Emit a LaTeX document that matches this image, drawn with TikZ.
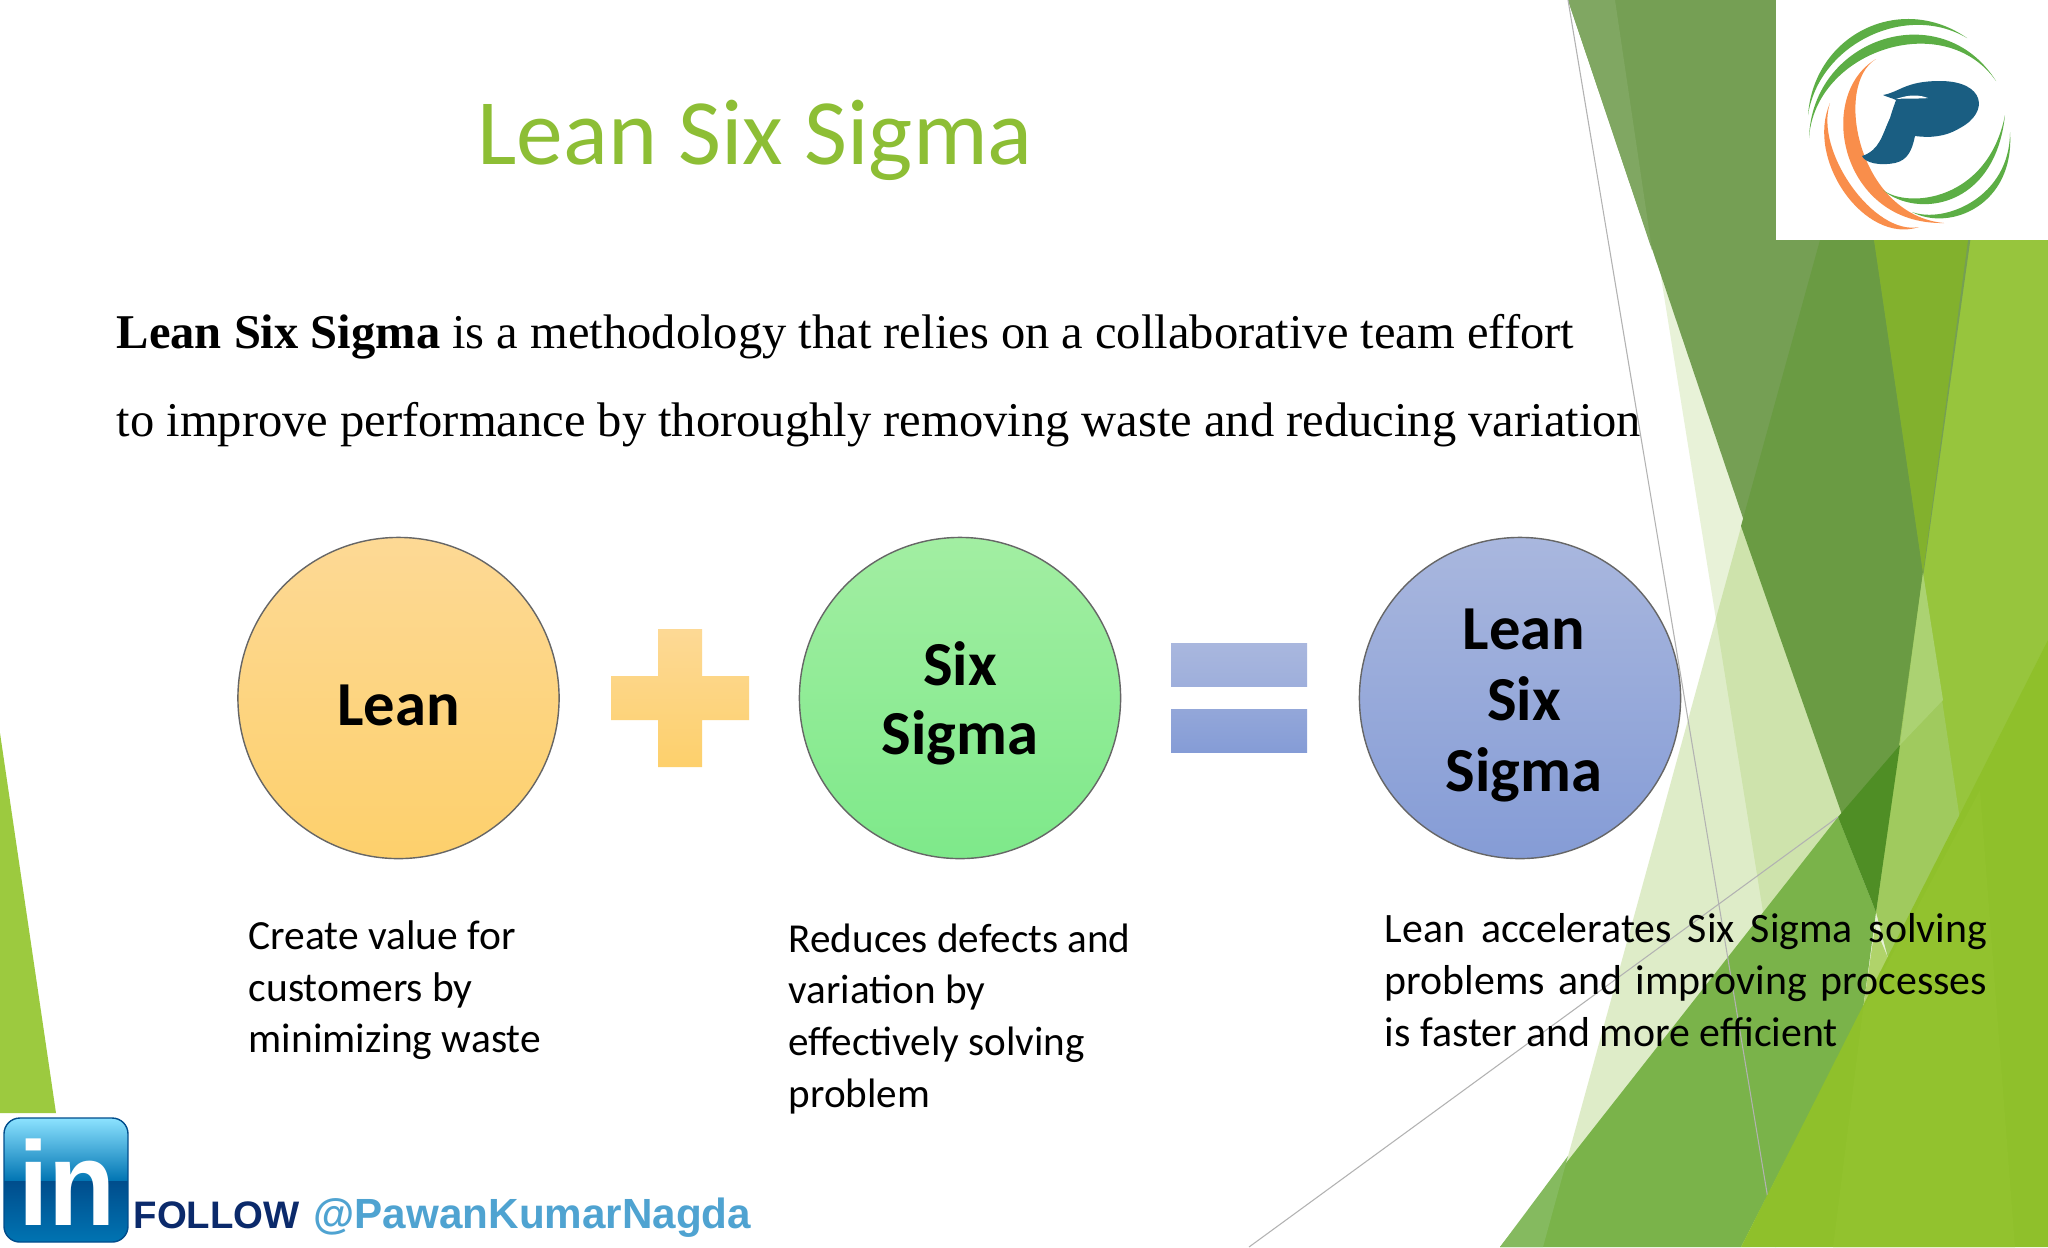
\documentclass[tikz,border=0pt]{standalone}
\usepackage{fontspec}
\setmainfont{Carlito}
\newfontfamily\bodyfont{Liberation Serif}
\newfontfamily\followfont{Liberation Sans}
\usetikzlibrary{positioning}
\definecolor{titlegreen}{HTML}{8DBE35}
\definecolor{paledark}{HTML}{8CBE3C}
\definecolor{bandtop}{HTML}{759F54}
\definecolor{bandlow}{HTML}{6A9B43}
\definecolor{bandyel}{HTML}{82B12D}
\definecolor{fieldlt}{HTML}{97C53D}
\definecolor{wedgelt}{HTML}{A0CA5E}
\definecolor{wedgeup}{HTML}{ABD272}
\definecolor{patchlt}{HTML}{B0D36A}
\definecolor{midgrn}{HTML}{7AB34A}
\definecolor{midpale}{HTML}{85BA5F}
\definecolor{deepgrn}{HTML}{4F8E25}
\definecolor{brightgrn}{HTML}{8FC02B}
\definecolor{stripegrn}{HTML}{92C22E}
\definecolor{sidegrn}{HTML}{9CCA3F}
\definecolor{leantop}{HTML}{FDD995}
\definecolor{leanlow}{HTML}{FDD06C}
\definecolor{sixtop}{HTML}{A2EEA2}
\definecolor{sixlow}{HTML}{7EE98A}
\definecolor{bothtop}{HTML}{A9B7DE}
\definecolor{bothlow}{HTML}{859CD6}
\definecolor{logoteal}{HTML}{1A5E82}
\definecolor{logogrn}{HTML}{5CAE45}
\definecolor{logoorg}{HTML}{F98E4B}
\definecolor{followblue}{HTML}{0B2A6B}
\definecolor{handleblue}{HTML}{4FA3D1}
\newcommand{\dropline}{\rule{0pt}{0.55cm}}
\tikzset{
	bigcircle/.style={circle,draw=black!60,line width=0.4pt,minimum size=3.21cm,inner sep=0pt,align=center,
		font=\fontsize{17.8}{19.7}\selectfont\bfseries},
	leandisc/.style={bigcircle,top color=leantop,bottom color=leanlow},
	sixdisc/.style={bigcircle,top color=sixtop,bottom color=sixlow},
	bothdisc/.style={bigcircle,top color=bothtop,bottom color=bothlow,font=\fontsize{17.8}{20.2}\selectfont\bfseries},
	bodyline/.style={anchor=base west,inner sep=0pt,font=\bodyfont\fontsize{13.8}{17}\selectfont},
	notetext/.style={anchor=north west,inner sep=0pt,align=left,font=\fontsize{11.7}{14.7}\selectfont},
	facet/.style={draw=none},
	hairline/.style={draw=black!30,line width=0.3pt}
}
\begin{document}
\begin{tikzpicture}[x=0.01cm,y=-0.01cm]
	\useasboundingbox (0,0) rectangle (2048,1247);
	\fill[white] (0,0) rectangle (2048,1247);

	\fill[facet,fieldlt] (1900,240) rectangle (2048,1247);
	\fill[facet,paledark,fill opacity=0.2] (1661,277) -- (1790,1080) -- (1900,1000) -- (1800,400) -- cycle;
	\fill[facet,paledark,fill opacity=0.28] (1820,240) -- (1543,1247) -- (1750,1247) -- (1880,800) -- cycle;
	\fill[facet,bandtop] (1568,0) -- (2004,0) -- (1876,912) -- cycle;
	\fill[facet,bandtop!92!white] (1568,0) -- (1615,0) -- (1652,250) -- cycle;
	\fill[facet,bandlow] (1820,240) -- (1874,240) -- (1923,573) -- (1876,912) -- (1741,526) -- cycle;
	\fill[facet,bandyel] (1874,240) -- (1968,240) -- (1923,573) -- cycle;
	\fill[facet,wedgelt] (1923,573) -- (1960,820) -- (1888,958) -- (1876,912) -- cycle;
	\fill[facet,wedgeup] (1923,573) -- (1943,700) -- (1900,745) -- cycle;
	\fill[facet,midgrn] (1500,1247) -- (1838,817) -- (1876,912) -- (1863,1009) -- (1741,1247) -- cycle;
	\fill[facet,midpale] (1500,1247) -- (1568,1156) -- (1543,1247) -- cycle;
	\fill[facet,deepgrn] (1838,817) -- (1900,745) -- (1876,912) -- cycle;
	\fill[facet,patchlt] (1875,927) -- (1888,958) -- (1863,1009) -- cycle;
	\draw[hairline] (1249,1247) -- (1838,817);
	\draw[hairline] (1568,0) -- (1776,1247);
	\fill[facet,brightgrn] (1741,1247) -- (2048,640) -- (2048,1247) -- cycle;
	\fill[facet,stripegrn] (1863,1009) -- (1833,1247) -- (2015,1247) -- (1980,790) -- cycle;
	\fill[facet,sidegrn] (0,733) -- (56,1113) -- (0,1113) -- cycle;

	\fill[white] (1776,0) rectangle (2048,240);
	\fill[logogrn] (1967,38) .. controls (1901,-8) and (1814,34) .. (1808,115) .. controls (1819,44) and (1906,2) .. cycle;
	\fill[logogrn] (1996,81) .. controls (1942,-5) and (1812,37) .. (1809,138) .. controls (1815,50) and (1945,8) .. cycle;
	\fill[logoorg] (1830,103) .. controls (1805,160) and (1865,245) .. (1919,227) .. controls (1874,236) and (1814,151) .. cycle;
	\fill[logoorg] (1876,59) .. controls (1815,95) and (1840,225) .. (1944,223) .. controls (1858,215) and (1833,85) .. cycle;
	\fill[logogrn] (1883,190) .. controls (1915,218) and (1995,210) .. (2005,115) .. controls (1988,201) and (1908,209) .. cycle;
	\fill[logogrn] (1912,212) .. controls (1950,232) and (2015,205) .. (2010,132) .. controls (2010,197) and (1945,224) .. cycle;
	\fill[logoteal] (1883,95) .. controls (1900,92) and (1905,81) .. (1940,81) .. controls (1985,81) and (1990,112) .. (1960,128)
		.. controls (1945,137) and (1930,138) .. (1915,136) .. controls (1912,150) and (1908,160) .. (1895,163)
		.. controls (1880,166) and (1865,163) .. (1862,156) .. controls (1880,150) and (1882,135) .. (1890,118)
		.. controls (1893,108) and (1895,103) .. (1896,100) .. controls (1892,98) and (1887,97) .. cycle;
	\fill[white] (1896,99) .. controls (1910,94) and (1920,95) .. (1928,98) .. controls (1920,99) and (1910,98) .. cycle;

	\node[anchor=base west,inner sep=0pt,text=titlegreen,font=\fontsize{26.6}{30}\selectfont] (title) at (477,164) {Lean Six Sigma};
	\node[bodyline] (bodya) at (116,348) {\textbf{Lean Six Sigma} is a methodology that relies on a collaborative team effort};
	\node[bodyline] (bodyb) at (116,436) {to improve performance by thoroughly removing waste and reducing variation};

	\node[leandisc] (lean) at (398.5,698) {\dropline Lean};
	\node[sixdisc] (six) at (960,698) {\dropline Six\\Sigma};
	\node[bothdisc] (both) at (1520,698) {\dropline\hspace*{0.08cm}Lean\\\hspace*{0.08cm}Six\\\hspace*{0.08cm}Sigma};

	\path[top color=leantop,bottom color=leanlow] (658,629) -- (702,629) -- (702,676) -- (749,676) -- (749,720) -- (702,720) -- (702,767) -- (658,767) -- (658,720) -- (611,720) -- (611,676) -- (658,676) -- cycle;
	\path[top color=bothtop,bottom color=bothtop!70!bothlow] (1171,643) rectangle (1307,686);
	\path[top color=bothtop!40!bothlow,bottom color=bothlow] (1171,709) rectangle (1307,752);

	\node[notetext,font=\fontsize{11.8}{14.7}\selectfont] (leannote) at (248,920) {Create value for\\customers by\\minimizing waste};
	\node[notetext] (sixnote) at (788,923) {Reduces defects and\\variation by\\effectively solving\\problem};
	\node[notetext,text width=6.02cm,align=justify,font=\fontsize{11.9}{14.7}\selectfont] (bothnote) at (1384,913) {Lean accelerates Six Sigma solving\linebreak problems and improving processes\linebreak is faster and more efficient};

	\begin{scope}
		\clip[rounded corners=4.5pt] (4,1118) rectangle (128,1242);
		\path[top color=blue!25!cyan!45!white,bottom color=blue!35!cyan!70!black] (4,1118) rectangle (128,1181);
		\path[top color=blue!45!cyan!55!black,bottom color=blue!35!cyan!70!black] (4,1181) rectangle (128,1242);
	\end{scope}
	\draw[rounded corners=4.5pt,draw=blue!45!cyan!55!black,line width=0.4pt] (4,1118) rectangle (128,1242);
	\node[anchor=base,inner sep=0pt,text=white,xscale=0.92,font=\followfont\bfseries\fontsize{34}{34}\selectfont] (inlogo) at (67,1225) {in};
	\node[anchor=base west,inner sep=0pt,text=followblue,font=\followfont\bfseries\fontsize{10.9}{13}\selectfont] (follow) at (133,1228) {FOLLOW};
	\node[anchor=base west,inner sep=0pt,text=handleblue,font=\followfont\bfseries\fontsize{12}{13}\selectfont] (handle) at (313,1228) {@PawanKumarNagda};
\end{tikzpicture}
\end{document}
